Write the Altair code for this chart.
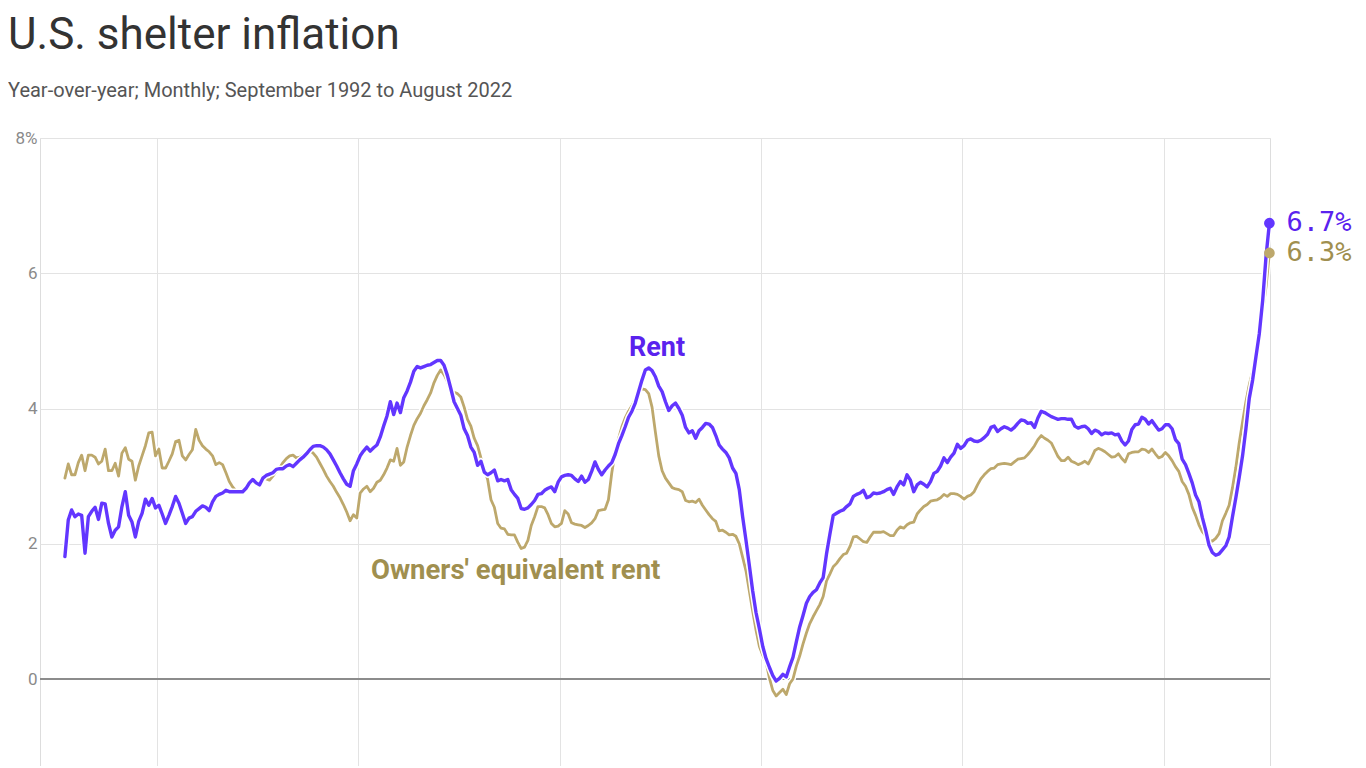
import altair as alt
import pandas as pd

# ---------------- data ----------------
START_YEAR = 1992
START_MONTH = 9  # September 1992 ... August 2022, monthly

rent = [
    1.81, 2.35, 2.50, 2.40, 2.44, 2.42, 1.86, 2.40, 2.48, 2.54, 2.36, 2.60,
    2.59, 2.30, 2.10, 2.20, 2.25, 2.55, 2.77, 2.42, 2.32, 2.10, 2.33, 2.45,
    2.66, 2.57, 2.67, 2.53, 2.57, 2.44, 2.30, 2.42, 2.55, 2.70, 2.60, 2.45,
    2.30, 2.38, 2.40, 2.48, 2.52, 2.56, 2.54, 2.49, 2.62, 2.70, 2.73, 2.75,
    2.79, 2.77, 2.77, 2.77, 2.77, 2.77, 2.82, 2.90, 2.95, 2.90, 2.87, 2.97,
    3.01, 3.03, 3.05, 3.10, 3.11, 3.11, 3.15, 3.17, 3.14, 3.19, 3.24, 3.28,
    3.33, 3.39, 3.44, 3.45, 3.45, 3.43, 3.39, 3.33, 3.24, 3.15, 3.05, 2.96,
    2.88, 2.85, 3.08, 3.18, 3.30, 3.37, 3.43, 3.37, 3.42, 3.46, 3.58, 3.74,
    3.89, 4.10, 3.91, 4.08, 3.94, 4.16, 4.26, 4.39, 4.55, 4.62, 4.60, 4.62,
    4.64, 4.65, 4.68, 4.71, 4.71, 4.64, 4.49, 4.30, 4.10, 4.00, 3.90, 3.70,
    3.60, 3.43, 3.35, 3.16, 3.22, 3.06, 3.02, 3.05, 3.09, 2.93, 2.95, 2.93,
    2.95, 2.80, 2.73, 2.67, 2.52, 2.51, 2.53, 2.58, 2.64, 2.73, 2.74, 2.79,
    2.82, 2.84, 2.77, 2.91, 2.99, 3.01, 3.02, 3.01, 2.96, 2.92, 3.00, 2.91,
    2.95, 3.07, 3.21, 3.10, 3.02, 3.09, 3.15, 3.20, 3.32, 3.48, 3.60, 3.73,
    3.87, 3.96, 4.08, 4.25, 4.42, 4.57, 4.60, 4.56, 4.47, 4.33, 4.25, 4.10,
    3.97, 4.04, 4.08, 4.00, 3.90, 3.72, 3.64, 3.67, 3.56, 3.67, 3.72, 3.78,
    3.77, 3.72, 3.60, 3.46, 3.40, 3.35, 3.27, 3.12, 3.04, 2.80, 2.40, 2.05,
    1.68, 1.30, 0.98, 0.74, 0.48, 0.30, 0.17, 0.05, -0.03, 0.01, 0.07, 0.03,
    0.18, 0.32, 0.55, 0.77, 0.94, 1.12, 1.22, 1.28, 1.32, 1.42, 1.50, 1.85,
    2.14, 2.42, 2.45, 2.48, 2.50, 2.55, 2.59, 2.70, 2.73, 2.75, 2.79, 2.68,
    2.70, 2.75, 2.74, 2.75, 2.77, 2.80, 2.82, 2.73, 2.84, 2.92, 2.87, 3.02,
    2.94, 2.77, 2.87, 2.91, 2.88, 2.84, 2.92, 3.04, 3.07, 3.15, 3.27, 3.20,
    3.28, 3.34, 3.47, 3.41, 3.45, 3.53, 3.55, 3.52, 3.51, 3.53, 3.57, 3.62,
    3.72, 3.74, 3.66, 3.70, 3.73, 3.71, 3.68, 3.72, 3.78, 3.83, 3.82, 3.78,
    3.79, 3.72, 3.86, 3.96, 3.94, 3.91, 3.88, 3.86, 3.84, 3.85, 3.85, 3.84,
    3.84, 3.74, 3.71, 3.73, 3.74, 3.70, 3.63, 3.68, 3.66, 3.61, 3.64, 3.63,
    3.64, 3.61, 3.62, 3.52, 3.46, 3.52, 3.69, 3.76, 3.77, 3.87, 3.84, 3.77,
    3.82, 3.75, 3.68, 3.70, 3.76, 3.76, 3.70, 3.54, 3.48, 3.25, 3.17, 3.04,
    2.90, 2.72, 2.62, 2.39, 2.20, 1.98, 1.87, 1.83, 1.85, 1.91, 1.97, 2.10,
    2.40, 2.68, 2.98, 3.30, 3.70, 4.15, 4.42, 4.77, 5.11, 5.60, 6.25, 6.74,
]

oer = [
    2.97, 3.18, 3.02, 3.02, 3.20, 3.31, 3.08, 3.31, 3.31, 3.28, 3.18, 3.22,
    3.40, 3.08, 3.08, 3.19, 3.00, 3.34, 3.42, 3.25, 3.22, 2.94, 3.15, 3.30,
    3.45, 3.64, 3.65, 3.30, 3.40, 3.12, 3.12, 3.22, 3.33, 3.51, 3.53, 3.30,
    3.24, 3.32, 3.39, 3.69, 3.53, 3.45, 3.40, 3.36, 3.30, 3.17, 3.20, 3.17,
    3.05, 2.92, 2.84, 2.78, 2.76, 2.80, 2.84, 2.90, 2.97, 2.92, 2.90, 3.00,
    2.96, 2.94, 3.00, 3.07, 3.12, 3.20, 3.26, 3.30, 3.31, 3.27, 3.28, 3.31,
    3.34, 3.38, 3.34, 3.28, 3.19, 3.10, 3.00, 2.92, 2.85, 2.76, 2.68, 2.58,
    2.47, 2.34, 2.43, 2.38, 2.75, 2.81, 2.85, 2.77, 2.82, 2.91, 2.94, 3.02,
    3.12, 3.24, 3.22, 3.41, 3.16, 3.21, 3.43, 3.60, 3.75, 3.85, 3.93, 4.04,
    4.13, 4.23, 4.38, 4.49, 4.57, 4.50, 4.40, 4.26, 4.24, 4.22, 4.17, 4.02,
    3.84, 3.74, 3.56, 3.45, 3.27, 3.12, 2.95, 2.65, 2.54, 2.30, 2.23, 2.22,
    2.14, 2.13, 2.13, 2.02, 1.93, 1.95, 2.05, 2.27, 2.40, 2.55, 2.55, 2.53,
    2.43, 2.30, 2.25, 2.26, 2.30, 2.49, 2.44, 2.31, 2.29, 2.28, 2.27, 2.24,
    2.27, 2.31, 2.37, 2.49, 2.50, 2.51, 2.65, 3.05, 3.35, 3.55, 3.73, 3.86,
    3.96, 4.04, 4.14, 4.25, 4.29, 4.28, 4.22, 4.02, 3.65, 3.30, 3.08, 2.97,
    2.90, 2.83, 2.81, 2.80, 2.77, 2.64, 2.62, 2.63, 2.61, 2.66, 2.57, 2.50,
    2.43, 2.37, 2.33, 2.19, 2.20, 2.17, 2.13, 2.14, 2.11, 2.00, 1.80, 1.60,
    1.30, 1.00, 0.72, 0.48, 0.35, 0.25, 0.01, -0.17, -0.25, -0.20, -0.15, -0.23,
    -0.07, 0.00, 0.19, 0.34, 0.52, 0.68, 0.82, 0.92, 1.01, 1.10, 1.22, 1.45,
    1.55, 1.66, 1.71, 1.78, 1.84, 1.86, 1.96, 2.10, 2.11, 2.07, 2.03, 2.02,
    2.10, 2.17, 2.17, 2.17, 2.18, 2.15, 2.12, 2.12, 2.20, 2.25, 2.23, 2.28,
    2.31, 2.32, 2.44, 2.50, 2.55, 2.58, 2.63, 2.64, 2.65, 2.68, 2.73, 2.70,
    2.74, 2.74, 2.73, 2.70, 2.66, 2.70, 2.72, 2.77, 2.87, 2.96, 3.02, 3.07,
    3.11, 3.12, 3.17, 3.18, 3.19, 3.18, 3.17, 3.21, 3.25, 3.26, 3.27, 3.32,
    3.38, 3.45, 3.54, 3.60, 3.56, 3.53, 3.49, 3.39, 3.29, 3.23, 3.23, 3.28,
    3.22, 3.20, 3.17, 3.19, 3.22, 3.18, 3.27, 3.38, 3.41, 3.39, 3.36, 3.32,
    3.28, 3.29, 3.33, 3.26, 3.21, 3.33, 3.35, 3.36, 3.36, 3.40, 3.39, 3.35,
    3.40, 3.33, 3.27, 3.29, 3.35, 3.30, 3.23, 3.14, 3.07, 2.92, 2.85, 2.73,
    2.54, 2.42, 2.28, 2.18, 2.12, 2.05, 2.04, 2.08, 2.15, 2.34, 2.45, 2.57,
    2.83, 3.13, 3.49, 3.80, 4.10, 4.35, 4.55, 4.82, 5.10, 5.45, 5.80, 6.30,
]

series_keys = ["Rent", "OER"]
annotation_text = ["Rent", "Owners' equivalent rent"]
annotation_x = [2007.415, 2000.31]   # decimal year
annotation_y = [4.895, 1.597]        # percent
y_ticks = [0, 2, 4, 6, 8]
x_grid_years = [1995, 2000, 2005, 2010, 2015, 2020]

TITLE = "U.S. shelter inflation"
SUBTITLE = "Year-over-year; Monthly; September 1992 to August 2022"

RENT_COLOR = "#6236ff"
OER_COLOR = "#bda86c"
RENT_TEXT = "#5a22ee"
OER_TEXT = "#a08f4f"

# ---------------- tables ----------------
n = len(rent)
t = [START_YEAR + (START_MONTH - 1 + i + 0.5) / 12 for i in range(n)]
df = pd.DataFrame({
    "t": t + t,
    "value": rent + oer,
    "series": ["Rent"] * n + ["OER"] * n,
})
last = pd.DataFrame({
    "t": [t[-1], t[-1]],
    "value": [rent[-1], oer[-1]],
    "series": series_keys,
})
last["label"] = last["value"].map(lambda v: f"{v:.1f}%")
ann = pd.DataFrame({
    "t": annotation_x,
    "value": annotation_y,
    "label": annotation_text,
    "series": series_keys,
})

xscale = alt.Scale(domain=[1992.09, 2022.64], nice=False, zero=False)
yscale = alt.Scale(domain=[-1.2865, 8], nice=False, zero=False)

x_axis = alt.Axis(values=x_grid_years, grid=True, gridColor="#e3e3e3", gridWidth=1,
                  labels=False, ticks=False, domain=False, title=None)
y_axis = alt.Axis(values=y_ticks, grid=True, gridColor="#e3e3e3", gridWidth=1,
                  ticks=False, domain=False, title=None,
                  labelExpr="datum.value == 8 ? '8%' : '' + datum.value",
                  labelColor="#8a8a8a", labelFont="Roboto", labelFontSize=17,
                  labelPadding=3, labelBaseline="middle")

X = alt.X("t:Q", scale=xscale, axis=x_axis)
Y = alt.Y("value:Q", scale=yscale, axis=y_axis)
Xn = alt.X("t:Q", scale=xscale)
Yn = alt.Y("value:Q", scale=yscale)

base = alt.Chart(df)

grid_layer = base.mark_line(opacity=0).encode(x=X, y=Y)

zero_rule = alt.Chart(df).mark_rule(color="#8c8c8c", strokeWidth=1.2).encode(
    y=alt.datum(0)
)


def line_pair(key, color, width):
    sub = base.transform_filter(alt.datum.series == key)
    halo = sub.mark_line(color="white", strokeWidth=width + 3, strokeCap="round",
                         strokeJoin="round").encode(x=Xn, y=Yn)
    line = sub.mark_line(color=color, strokeWidth=width, strokeCap="round",
                         strokeJoin="round").encode(x=Xn, y=Yn)
    return halo, line


oer_halo, oer_line = line_pair("OER", OER_COLOR, 2.8)
rent_halo, rent_line = line_pair("Rent", RENT_COLOR, 3.4)

color_scale = alt.Scale(domain=series_keys, range=[RENT_COLOR, OER_COLOR])
text_scale = alt.Scale(domain=series_keys, range=[RENT_TEXT, OER_TEXT])

dots = alt.Chart(last).mark_circle(size=115, opacity=1).encode(
    x=Xn, y=Yn, color=alt.Color("series:N", scale=color_scale, legend=None)
)
end_labels = alt.Chart(last).mark_text(
    align="left", baseline="middle", dx=17, font="DejaVu Sans Mono", fontSize=27
).encode(
    x=Xn, y=Yn, text="label:N",
    color=alt.Color("series:N", scale=text_scale, legend=None),
)

rent_ann = alt.Chart(ann).transform_filter(alt.datum.series == "Rent").mark_text(
    align="center", baseline="middle", font="Roboto", fontSize=27, fontWeight="bold",
    color=RENT_TEXT
).encode(x=Xn, y=Yn, text="label:N")

oer_ann = alt.Chart(ann).transform_filter(alt.datum.series == "OER").mark_text(
    align="left", baseline="middle", font="Roboto", fontSize=27.5, fontWeight="bold",
    color=OER_TEXT
).encode(x=Xn, y=Yn, text="label:N")

chart = alt.layer(
    grid_layer, zero_rule, oer_halo, oer_line, rent_halo, rent_line,
    dots, end_labels, rent_ann, oer_ann
).resolve_scale(color="independent").properties(
    width=1230,
    height=628,
    autosize=alt.AutoSizeParams(type="none"),
    padding={"left": 32, "top": 130, "right": 88, "bottom": 0},
    title=alt.TitleParams(
        text=TITLE, subtitle=SUBTITLE, anchor="start", frame="group",
        dx=-32, offset=28, font="Roboto", fontSize=44, fontWeight="normal",
        color="#333333", subtitleFont="Roboto", subtitleFontSize=20,
        subtitleColor="#555555", subtitlePadding=23,
    ),
).configure_view(strokeWidth=0).configure(background="white")

chart.save("out.html", embed_options={"renderer": "svg", "actions": False})
